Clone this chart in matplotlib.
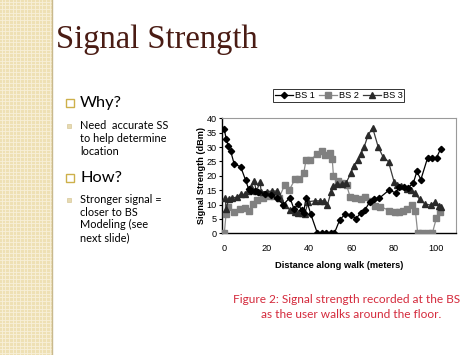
import matplotlib.pyplot as plt
from matplotlib.patches import Rectangle
from matplotlib.lines import Line2D

# signal strength data (distance in m, strength in dBm)
bs1_x = [0, 0.9, 1.9, 3.0, 4.7, 7.7, 10.1, 11.5, 12.8, 14.4, 16, 19, 22, 24.8, 27.9, 31, 32.9,
         35, 36.5, 37.5, 38.6, 40.8, 44, 46, 48, 50.5, 52, 54.5, 57, 59.8, 62.2, 64.4, 66.5,
         68.8, 70.7, 73.2, 77.8, 81, 82.5, 84.9, 86.9, 89.3, 91, 92.9, 96.1, 98.3, 100.3, 102.2]
bs1_y = [36.2, 32.7, 30.4, 28.6, 24.0, 23.2, 18.4, 15.4, 14.7, 14.7, 14.5, 13.8, 13.2, 12.2, 10.0,
         12.4, 8.5, 10.1, 8.0, 7.2, 12.3, 6.8, 0, 0, 0, 0, 0, 4.6, 6.6, 6.4, 5.1, 7.0, 8.2,
         11.0, 11.9, 12.2, 15.0, 14.1, 16.0, 16.2, 15.9, 17.4, 21.5, 18.7, 26.3, 26.3, 26.3, 29.3]

bs2_x = [0, 0.8, 1.8, 4.5, 7.6, 9.8, 11.5, 13.5, 15.5, 18.5, 21, 23.6, 25.8, 28.5, 30.8, 33.4,
         35.3, 37.5, 38.6, 40.7, 43.8, 46.0, 47.8, 50.0, 51.0, 51.6, 53.5, 55.5, 57.8, 59.5,
         62.0, 64.5, 66.5, 69.1, 71.2, 73.8, 78.0, 80.5, 82.7, 84.6, 86.5, 88.5, 90.3, 91.4,
         93.2, 96.5, 98.3, 100.2, 101.8]
bs2_y = [0, 6.6, 9.0, 7.3, 8.3, 8.8, 7.9, 10.2, 11.7, 12.3, 13.0, 13.0, 12.2, 16.8, 15.2, 18.8,
         18.9, 20.8, 25.4, 25.4, 27.6, 28.6, 27.2, 27.8, 25.8, 19.8, 18.2, 17.4, 16.8, 12.5,
         12.2, 11.8, 12.6, 11.3, 9.5, 9.3, 7.9, 7.5, 7.5, 7.8, 8.4, 9.8, 7.9, 0,
         0, 0, 0, 5.2, 7.5]

bs3_x = [0.3, 1.0, 2.0, 3.5, 5.9, 7.7, 9.8, 11.3, 12.6, 14.0, 15.2, 16.9, 17.4, 20.0, 22.5, 24.8,
         26.3, 28.7, 31.0, 33.4, 35.0, 36.9, 38.0, 39.7, 42.9, 45.3, 47.3, 48.7, 50.4, 51.5,
         53.1, 55.5, 57.6, 59.8, 61.2, 63.3, 64.5, 66.1, 68.0, 70.1, 72.7, 75.0, 77.6, 80.2,
         81.5, 83.5, 86.5, 88.0, 90.0, 92.4, 94.8, 97.6, 99.5, 101.4, 102.2]
bs3_y = [12.2, 8.5, 12.0, 12.2, 12.6, 13.5, 13.5, 14.7, 16.2, 18.3, 14.6, 18.0, 14.5, 14.5, 14.7, 14.7,
         12.2, 9.8, 8.1, 7.5, 6.9, 6.9, 6.7, 11.0, 11.3, 11.3, 11.3, 9.8, 14.3, 16.3,
         17.1, 17.1, 17.6, 20.9, 23.5, 25.5, 27.5, 30.1, 34.2, 36.7, 30.1, 26.6, 24.9, 18.0,
         16.8, 16.5, 15.3, 15.0, 13.9, 11.8, 10.2, 9.8, 10.8, 9.5, 9.0]

x_ticks = [0, 20, 40, 60, 80, 100]
y_ticks = [0, 5, 10, 15, 20, 25, 30, 35, 40]

W, H = 474, 355


def fx(px):
    return px / W


def fy(py):
    return 1 - py / H


fig = plt.figure(figsize=(4.74, 3.55), dpi=100)
fig.patch.set_facecolor('white')

# left decorative stripe
fig.add_artist(Rectangle((0, 0), fx(51), 1, transform=fig.transFigure, color='#EEE0B4', zorder=0))
gx = 1.5
while gx < 51:
    fig.add_artist(Line2D([fx(gx), fx(gx)], [0, 1], transform=fig.transFigure, color='#F8F0DA', lw=0.6))
    gx += 3.7
gy = 1.5
while gy < H:
    fig.add_artist(Line2D([0, fx(51)], [fy(gy), fy(gy)], transform=fig.transFigure, color='#F8F0DA', lw=0.6))
    gy += 3.7
fig.add_artist(Line2D([fx(51.5), fx(51.5)], [0, 1], transform=fig.transFigure, color='#C9B98E', lw=1.0))

# title
fig.text(fx(56), fy(48), 'Signal Strength', family='Liberation Serif', fontsize=23.5,
         color='#4A1C14', va='baseline')

# bullets
sans = ['Lato', 'DejaVu Sans']
big = [('Why?', 106.5), ('How?', 181.5)]
for txt, base in big:
    fig.add_artist(Rectangle((fx(66), fy(base)), fx(7.5), 7.5 / H, transform=fig.transFigure,
                             fill=False, edgecolor='#CDB04A', lw=1.0))
    fig.text(fx(80), fy(base), txt, family=sans, fontsize=11.8, color='black', va='baseline')

sub = [(['Need  accurate SS', 'to help determine', 'location'], 129.3),
       (['Stronger signal =', 'closer to BS', 'Modeling (see', 'next slide)'], 202.7)]
for lines, base in sub:
    fig.add_artist(Rectangle((fx(66.5), fy(base - 1)), fx(4), 4 / H, transform=fig.transFigure,
                             facecolor='#E6DAB2', edgecolor='#D8C898', lw=0.5))
    for i, ln in enumerate(lines):
        fig.text(fx(80.5), fy(base + i * 12.9), ln, family=sans, fontsize=7.9,
                 color='black', va='baseline')

# caption
fig.text(fx(233), fy(303.3), 'Figure 2: Signal strength recorded at the BS', family=sans,
         fontsize=8.6, color='#D42A3C', va='baseline')
fig.text(fx(261), fy(318.3), 'as the user walks around the floor.', family=sans,
         fontsize=8.6, color='#D42A3C', va='baseline')

# chart
cfont = ['Liberation Sans', 'DejaVu Sans']
ax = fig.add_axes([fx(222.2), fy(233.3), fx(456) - fx(222.2), fy(118.3) - fy(233.3)])
ax.plot(bs1_x, bs1_y, color='black', lw=0.9, marker='D', ms=3.2, mfc='black', mec='black',
        label='BS 1', zorder=4)
ax.plot(bs2_x, bs2_y, color='#8C8C8C', lw=0.9, marker='s', ms=4.2, mfc='#808080', mec='#808080',
        label='BS 2', zorder=3)
ax.plot(bs3_x, bs3_y, color='#3A3A3A', lw=0.9, marker='^', ms=3.8, mfc='#2A2A2A', mec='#2A2A2A',
        label='BS 3', zorder=3)

ax.set_xlim(-1, 109.5)
ax.set_ylim(0, 40)
ax.set_xticks(x_ticks)
ax.set_yticks(y_ticks)
ax.tick_params(axis='x', length=0, pad=8, labelsize=6.6)
ax.tick_params(axis='y', length=2.5, width=0.8, pad=1.2, labelsize=6.6)
for lbl in ax.get_xticklabels() + ax.get_yticklabels():
    lbl.set_family(cfont)
for s in ['top', 'right']:
    ax.spines[s].set_color('#9A9A9A')
    ax.spines[s].set_linewidth(0.8)
for s in ['left', 'bottom']:
    ax.spines[s].set_color('black')
    ax.spines[s].set_linewidth(1.0)

fig.text(fx(202), fy(175.5), 'Signal Strength (dBm)', rotation=90, ha='center', va='center',
         family=cfont, fontsize=6.6, fontweight='bold')
fig.text(fx(339), fy(265), 'Distance along walk (meters)', ha='center', va='center',
         family=cfont, fontsize=6.7, fontweight='bold')

leg = fig.legend(loc='center', bbox_to_anchor=(fx(338.8), fy(95.5)), ncol=3, frameon=True,
                 fancybox=False, handlelength=2.0, handletextpad=0.2, columnspacing=0.4,
                 borderpad=0.2, prop={'family': cfont, 'size': 6.6})
leg.get_frame().set_edgecolor('black')
leg.get_frame().set_linewidth(0.7)

fig.savefig('out.png', dpi=100)
